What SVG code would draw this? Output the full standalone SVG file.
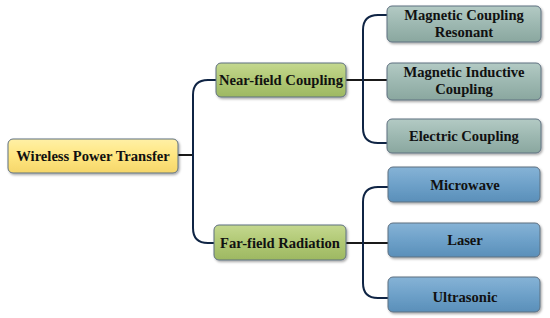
<svg xmlns="http://www.w3.org/2000/svg" width="550" height="318" viewBox="0 0 550 318">
<defs>
<linearGradient id="gY" x1="0" y1="0" x2="0" y2="1"><stop offset="0" stop-color="#FFF0A6"/><stop offset="0.5" stop-color="#FFE680"/><stop offset="1" stop-color="#F5D66A"/></linearGradient>
<linearGradient id="gG" x1="0" y1="0" x2="0" y2="1"><stop offset="0" stop-color="#C4D88F"/><stop offset="0.5" stop-color="#B0C874"/><stop offset="1" stop-color="#9DB862"/></linearGradient>
<linearGradient id="gT" x1="0" y1="0" x2="0" y2="1"><stop offset="0" stop-color="#B3CAC4"/><stop offset="0.5" stop-color="#9DB8B1"/><stop offset="1" stop-color="#8AA79F"/></linearGradient>
<linearGradient id="gB" x1="0" y1="0" x2="0" y2="1"><stop offset="0" stop-color="#86B3D6"/><stop offset="0.5" stop-color="#6EA1C9"/><stop offset="1" stop-color="#5A8FB9"/></linearGradient>
<filter id="sh" x="-10%" y="-20%" width="125%" height="150%"><feDropShadow dx="1.2" dy="1.5" stdDeviation="1" flood-color="#000" flood-opacity="0.35"/></filter>
</defs>
<style>
.box{stroke:#5F7080;stroke-width:1;filter:url(#sh)}
.t{font-family:"Liberation Serif","Times New Roman",serif;font-weight:bold;font-size:14.6px;fill:#111;text-anchor:middle}
.c{fill:none;stroke:#0F2444;stroke-width:2}
.s{fill:none;stroke:#1A1A1A;stroke-width:2}
</style>
<rect width="550" height="318" fill="#fff"/>
<g id="connectors">
<path class="s" d="M178,155 H193"/>
<path class="c" d="M216,80 H208 Q193,80 193,95 V228 Q193,243 208,243 H214"/>
<path class="s" d="M346,80 H387"/>
<path class="c" d="M387,15 H378 Q363,15 363,30 V128 Q363,143 378,143 H387"/>
<path class="s" d="M346,243 H388"/>
<path class="c" d="M388,187 H378 Q363,187 363,202 V283 Q363,298 378,298 H388"/>
</g>
<g id="root"><rect class="box" x="8" y="139" width="170" height="34" rx="5" fill="url(#gY)"/><text class="t" x="93" y="160.5">Wireless Power Transfer</text></g>
<g id="near"><rect class="box" x="216" y="63" width="130" height="34" rx="5" fill="url(#gG)"/><text class="t" x="281" y="85">Near-field Coupling</text></g>
<g id="far"><rect class="box" x="214" y="225" width="132" height="35" rx="5" fill="url(#gG)"/><text class="t" x="280" y="248">Far-field Radiation</text></g>
<g id="mcr"><rect class="box" x="387" y="6" width="154" height="36" rx="5" fill="url(#gT)"/><text class="t" x="464" y="20">Magnetic Coupling</text><text class="t" x="464" y="37">Resonant</text></g>
<g id="mic"><rect class="box" x="387" y="63" width="154" height="37" rx="5" fill="url(#gT)"/><text class="t" x="464" y="77">Magnetic Inductive</text><text class="t" x="464" y="94">Coupling</text></g>
<g id="ec"><rect class="box" x="387" y="119" width="154" height="34" rx="5" fill="url(#gT)"/><text class="t" x="464" y="140.5">Electric Coupling</text></g>
<g id="micro"><rect class="box" x="388" y="167" width="152" height="35" rx="5" fill="url(#gB)"/><text class="t" x="465" y="190">Microwave</text></g>
<g id="laser"><rect class="box" x="388" y="223" width="152" height="34" rx="5" fill="url(#gB)"/><text class="t" x="465" y="245">Laser</text></g>
<g id="ultra"><rect class="box" x="388" y="277" width="152" height="35" rx="5" fill="url(#gB)"/><text class="t" x="465" y="302">Ultrasonic</text></g>
</svg>
